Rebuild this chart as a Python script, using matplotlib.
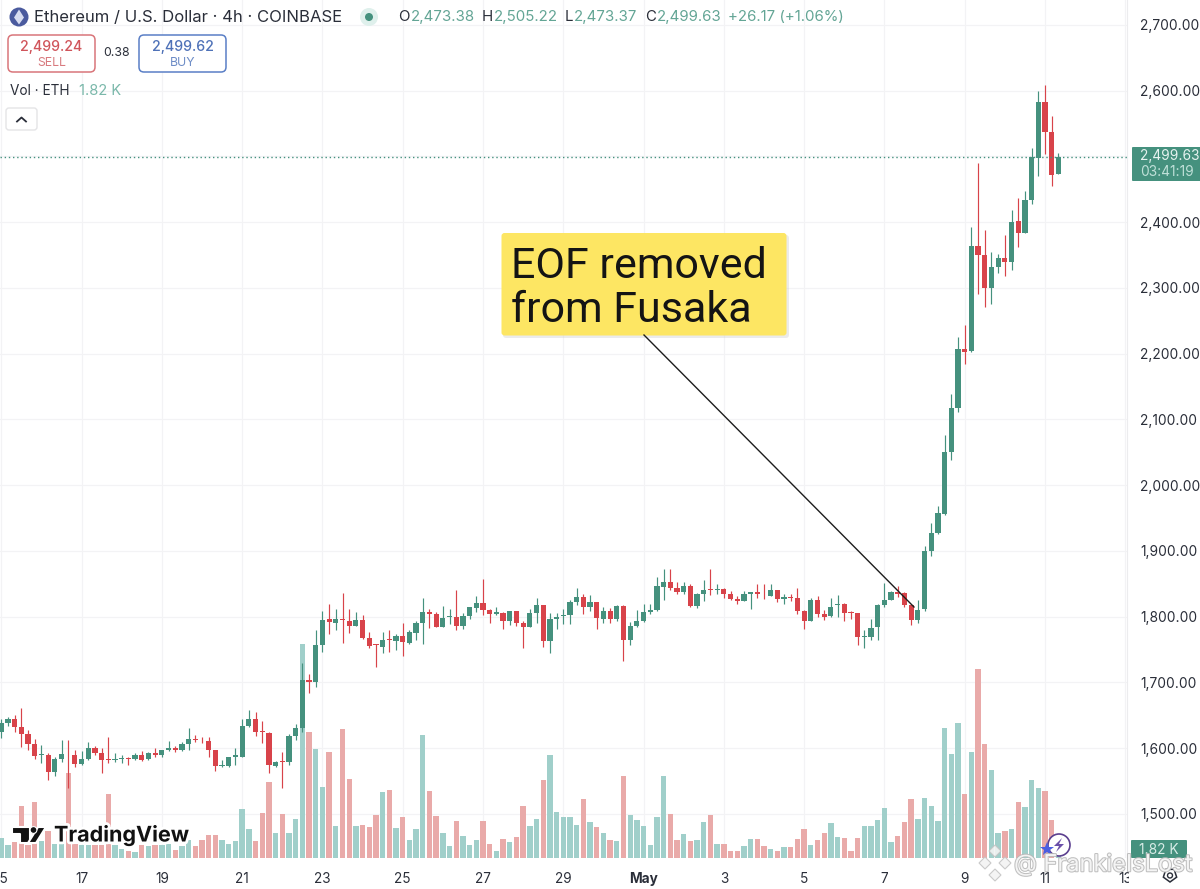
import matplotlib
matplotlib.use('Agg')
import matplotlib.pyplot as plt
import matplotlib.patheffects as pe
from matplotlib.patches import FancyBboxPatch, Polygon, Circle, RegularPolygon

plt.rcParams['font.family'] = ['Inter', 'DejaVu Sans']

# ETH/USD 4h candles from Apr 15
opens = [1624,1638,1644,1632,1621,1607,1589,1590,1564,1583,
         1590,1589,1576,1584,1601,1593,1584,1582,1583,1585,
         1584,1590,1583,1593,1589,1597,1600,1597,1607,1614,
         1613,1611,1597,1573,1573,1587,1587,1634,1645,1626,
         1623,1573,1580,1579,1619,1630,1704,1700,1757,1796,
         1791,1797,1794,1786,1795,1767,1758,1754,1766,1763,
         1770,1760,1775,1791,1807,1804,1785,1799,1800,1786,
         1801,1813,1821,1810,1804,1806,1794,1808,1791,1785,
         1805,1817,1763,1797,1801,1802,1822,1830,1815,1822,
         1797,1809,1796,1816,1764,1786,1793,1807,1810,1845,
         1853,1843,1838,1847,1816,1834,1842,1840,1842,1835,
         1827,1824,1835,1837,1835,1832,1840,1827,1830,1829,
         1808,1794,1826,1804,1801,1817,1820,1807,1805,1769,
         1769,1785,1817,1826,1838,1836,1817,1795,1811,1900,
         1928,1956,2051,2117,2207,2204,2364,2350,2300,2332,
         2345,2340,2401,2384,2433,2498,2582,2537,2473.38]
highs = [1644,1647,1650,1661,1628,1614,1605,1593,1587,1613,
         1612,1597,1595,1610,1604,1601,1617,1592,1589,1586,
         1592,1595,1594,1600,1598,1611,1604,1610,1630,1620,
         1617,1617,1597,1582,1587,1601,1645,1658,1655,1641,
         1624,1581,1594,1622,1637,1729,1713,1780,1808,1819,
         1812,1836,1812,1807,1802,1776,1758,1777,1779,1774,
         1791,1780,1794,1829,1812,1807,1816,1811,1841,1805,
         1815,1831,1858,1812,1815,1807,1809,1808,1793,1812,
         1829,1818,1805,1806,1811,1826,1843,1834,1833,1823,
         1815,1813,1817,1817,1792,1810,1819,1819,1860,1873,
         1872,1852,1852,1849,1836,1856,1872,1850,1843,1839,
         1831,1839,1838,1850,1850,1850,1841,1835,1834,1843,
         1810,1828,1831,1810,1828,1833,1821,1809,1806,1780,
         1797,1819,1851,1839,1846,1838,1820,1825,1907,1943,
         1969,2076,2139,2225,2244,2393,2490,2388,2354,2352,
         2380,2418,2436,2448,2512,2600,2608,2562,2505.22]
lows = [1615,1633,1624,1602,1597,1583,1577,1552,1557,1579,
        1539,1571,1575,1582,1590,1563,1578,1579,1578,1574,
        1582,1581,1582,1587,1587,1595,1594,1596,1598,1610,
        1608,1586,1566,1572,1572,1574,1586,1632,1619,1608,
        1563,1571,1539,1574,1613,1625,1684,1693,1747,1773,
        1780,1760,1775,1786,1766,1753,1723,1744,1746,1750,
        1740,1759,1765,1758,1783,1785,1785,1789,1780,1781,
        1797,1807,1802,1790,1802,1782,1787,1786,1753,1784,
        1791,1754,1745,1782,1789,1789,1818,1804,1808,1781,
        1790,1791,1794,1733,1757,1785,1792,1804,1809,1826,
        1841,1834,1835,1815,1813,1824,1833,1834,1828,1825,
        1819,1824,1811,1829,1827,1831,1823,1819,1824,1804,
        1782,1793,1799,1795,1799,1799,1793,1797,1757,1752,
        1764,1765,1815,1825,1830,1815,1787,1790,1809,1892,
        1925,1955,2038,2112,2184,2202,2291,2271,2275,2323,
        2318,2327,2362,2383,2428,2470,2504,2455,2473.37]
closes = [1638,1644,1632,1621,1606,1588,1591,1564,1584,1591,
          1589,1576,1584,1601,1593,1582,1582,1583,1585,1583,
          1590,1582,1593,1589,1597,1600,1597,1607,1614,1612,
          1612,1597,1573,1574,1586,1589,1634,1645,1625,1624,
          1574,1579,1579,1619,1630,1704,1700,1757,1795,1792,
          1797,1795,1786,1795,1768,1756,1757,1765,1764,1770,
          1761,1777,1791,1807,1804,1785,1798,1801,1786,1801,
          1814,1821,1810,1804,1807,1794,1808,1791,1784,1805,
          1817,1763,1797,1800,1803,1822,1830,1815,1823,1798,
          1809,1796,1816,1764,1786,1793,1807,1810,1846,1853,
          1843,1838,1847,1816,1834,1841,1841,1842,1835,1827,
          1824,1834,1837,1834,1834,1840,1827,1830,1829,1808,
          1794,1826,1804,1800,1815,1819,1806,1806,1769,1770,
          1783,1817,1826,1838,1834,1818,1795,1810,1900,1928,
          1957,2051,2117,2207,2203,2364,2350,2300,2332,2346,
          2339,2400,2384,2433,2499,2582,2537,2472,2499.63]
# volume in thousands of ETH
volumes = [4.6,2.9,3.6,11.8,2.9,12.8,3.8,6.1,3.3,8.0,
           19.4,3.3,3.0,3.0,2.9,2.9,14.7,2.9,2.1,1.7,
           1.3,2.9,2.7,2.9,3.0,3.3,1.9,2.7,4.2,2.7,
           4.0,5.2,5.2,4.0,3.3,3.8,11.2,6.6,3.8,10.3,
           17.4,5.7,10.0,5.7,9.0,48.9,28.7,24.9,16.3,24.2,
           7.4,29.3,18.0,7.2,7.6,7.0,9.8,15.0,15.4,6.9,
           9.3,4.1,6.5,28.0,15.3,9.6,5.7,2.7,8.5,5.0,
           3.0,4.1,8.5,3.3,1.7,4.3,3.7,4.9,11.9,7.4,
           8.9,17.7,23.4,10.4,9.3,9.3,7.5,13.5,8.2,7.0,
           5.7,4.2,3.8,18.7,9.7,8.7,7.4,3.0,9.4,18.8,
           10.0,4.2,5.5,3.9,4.1,8.2,9.7,3.3,3.3,1.5,
           1.6,2.7,4.3,4.4,2.8,2.1,1.7,2.4,2.5,4.3,
           6.7,3.0,4.0,5.6,7.9,4.9,4.6,1.5,4.6,7.4,
           7.2,8.7,11.5,3.6,5.1,8.1,13.5,8.9,13.6,11.9,
           8.4,29.7,23.8,30.7,14.6,24.2,43.0,26.1,20.0,5.8,
           6.2,6.6,12.8,11.6,17.8,16.0,15.3,8.7,1.82]

date_ticks = [0, 12, 24, 36, 48, 60, 72, 84, 96, 108, 120, 132, 144, 156, 168]
date_labels = ['15', '17', '19', '21', '23', '25', '27', '29', 'May', '3', '5', '7', '9', '11', '13']
price_ticks = [1500, 1600, 1700, 1800, 1900, 2000, 2100, 2200, 2300, 2400, 2500, 2600, 2700]
last_price = 2499.63

UP = '#45917e'
DOWN = '#d8434a'
UP_VOL = '#a0cfca'
DOWN_VOL = '#e9aaa9'
GRID = '#f3f3f5'
TEXT = '#2a2e39'
GREEN_TEXT = '#63a595'

W, H = 1200, 889
fig = plt.figure(figsize=(12, 8.89), dpi=100, facecolor='white')
rect = [0, (H - 858) / H, 1127 / W, 858 / H]
PRICE_LIM = (1433, 2737.8)
X_LIM = (-0.194, 168.26)

# grid at the back, then volume, then candles
ax_grid = fig.add_axes(rect, zorder=0)
ax_vol = fig.add_axes(rect, zorder=1, sharex=ax_grid)
ax = fig.add_axes(rect, zorder=2, sharex=ax_grid)

ax_grid.set_xlim(*X_LIM)
ax_grid.set_ylim(*PRICE_LIM)
ax_grid.set_xticks(date_ticks)
ax_grid.set_xticklabels(date_labels)
ax_grid.set_yticks(price_ticks)
ax_grid.tick_params(axis='x', length=0, pad=10, labelsize=9.8, labelcolor=TEXT)
ax_grid.tick_params(axis='y', length=0, labelleft=False)
ax_grid.grid(True, color=GRID, lw=0.85)
ax_grid.get_xticklabels()[8].set_fontweight('bold')
for s in ax_grid.spines.values():
    s.set_visible(False)

xs = list(range(len(opens)))
up = [c >= o for o, c in zip(opens, closes)]

ax_vol.bar(xs, volumes, width=0.8, color=[UP_VOL if u else DOWN_VOL for u in up])
ax_vol.set_ylim(0, 195.6)
ax_vol.axis('off')

colors = [UP if u else DOWN for u in up]
ax.vlines(xs, lows, highs, colors=colors, lw=0.85)
ax.bar(xs, [abs(c - o) for o, c in zip(opens, closes)], bottom=[min(o, c) for o, c in zip(opens, closes)],
       width=0.78, color=colors)
ax.axhline(last_price, color=UP, lw=1, ls=(0, (1, 2)))
ax.set_ylim(*PRICE_LIM)
ax.axis('off')

# price scale on the right
ax_r = fig.add_axes([1127 / W, rect[1], 73 / W, 1 - rect[1]], zorder=3)
ax_r.set_ylim(*PRICE_LIM)
ax_r.set_xticks([])
ax_r.set_yticks(price_ticks)
ax_r.set_yticklabels([f'{p:,.2f}' for p in price_ticks], ha='left')
ax_r.tick_params(axis='y', length=0, pad=-9.5, labelsize=9.9, labelcolor=TEXT)
for name, s in ax_r.spines.items():
    s.set_visible(name == 'left')
ax_r.spines['left'].set_color('#ececee')

# overlay in picture pixels for everything that sits on top of the chart
ov = fig.add_axes([0, 0, 1, 1], zorder=5)
ov.set_xlim(0, W)
ov.set_ylim(H, 0)
ov.axis('off')
ov.patch.set_alpha(0)


def box(x0, y0, x1, y1, r=3, **kw):
    p = FancyBboxPatch((x0 + r, y0 + r), x1 - x0 - 2 * r, y1 - y0 - 2 * r,
                       boxstyle=f'round,pad={r},rounding_size={r}', **kw)
    ov.add_patch(p)
    return p


def label(x, y, s, size=9.9, color=TEXT, ha='left', va='center', **kw):
    return ov.text(x, y, s, fontsize=size, color=color, ha=ha, va=va, **kw)


# the date scale stops where the price scale starts
ov.fill_between([1129, 1200], 858, 889, color='white', lw=0)

# header
ov.add_patch(Circle((19, 17), 9.5, color='#4a5a9e', lw=0))
ov.add_patch(Polygon([(19, 9.5), (24, 17.5), (19, 24.5), (14, 17.5)], color='#d7dcf0', lw=0))
label(34, 17, 'Ethereum / U.S. Dollar · 4h · COINBASE', size=12)
ov.add_patch(Circle((369, 17), 9, color='#dff0ec', lw=0))
ov.add_patch(Circle((369, 17), 4, color=UP, lw=0))
for x, letter in [(398, 'O'), (481.5, 'H'), (565, 'L'), (645, 'C')]:
    label(x, 17, letter, size=10.8)
for x, val in [(410.5, '2,473.38'), (494, '2,505.22'), (574, '2,473.37'), (657, '2,499.63'),
               (728, '+26.17 (+1.06%)')]:
    label(x, 17, val, size=10.8, color=GREEN_TEXT)

# sell / buy buttons
box(8, 35, 95, 72, r=5, fc='white', ec='#d9757a', lw=1.1)
label(51.5, 47, '2,499.24', size=10.2, color='#d0555b', ha='center', fontweight='medium')
label(51.5, 62.5, 'SELL', size=8.8, color='#d87a7e', ha='center')
label(117, 53.5, '0.38', size=8.8, ha='center')
box(139, 35, 226, 72, r=5, fc='white', ec='#5a7fc6', lw=1.1)
label(182.5, 47, '2,499.62', size=10.2, color='#4f72b8', ha='center', fontweight='medium')
label(182.5, 62.5, 'BUY', size=8.8, color='#6d8cc6', ha='center')

label(10, 91, 'Vol · ETH', size=9.8)
label(79, 91, '1.82 K', size=10.6, color='#7ab8aa')
box(6, 108, 37, 130, r=3, fc='white', ec='#e4e4e6', lw=1)
ov.plot([17, 21.5, 26], [121.5, 117.5, 121.5], color=TEXT, lw=1.3)

# note with its line
ov.plot([644, 914], [335, 607], color='#1c1c1c', lw=1)
box(503, 235, 789, 338, r=3, fc='#c8c8c8', ec='none', alpha=0.35)
box(501.5, 233, 786.5, 335.5, r=3, fc='#fde663', ec='none')
label(511, 278, 'EOF removed', size=31, color='#141414', va='baseline', family='Roboto')
label(511, 321.5, 'from Fusaka', size=31, color='#141414', va='baseline', family='Roboto')

# price labels on the scale
box(1132, 147, 1205, 181, r=1, fc=UP, ec='none')
label(1140, 156, '2,499.63', color='#e6f3f0', clip_on=True)
label(1140, 172, '03:41:19', color='#bfe0d8', clip_on=True)
box(1131, 840, 1187, 858, r=1, fc=UP, ec='none')
label(1159, 849.5, '1.82 K', color='#d8ece7', ha='center')

# TradingView mark
halo = [pe.withStroke(linewidth=4, foreground='white')]
for pts in [[(12, 827), (30, 827), (30, 843), (20, 843), (20, 834), (12, 834)],
            [(38, 827), (46, 827), (36, 843), (28, 843)]]:
    ov.add_patch(Polygon(pts, fc='#111111', ec='white', lw=1.5, joinstyle='round'))
ov.add_patch(Circle((33.5, 830), 3.4, fc='#111111', ec='white', lw=0.8))
label(54, 835, 'TradingView', size=15.5, color='#111111', fontweight='bold', path_effects=halo)

# small icons near the last bar and the gear
ov.add_patch(Circle((1059, 845), 11, fc='white', ec='#5b3f8f', lw=1.2))
ov.add_patch(Polygon([(1062, 838), (1054, 846), (1059, 846), (1056, 852), (1064, 844), (1059, 844)],
                     fc='#6a4fa8', lw=0))
ov.plot([1047], [849], marker='*', ms=10, color='#4b5fe0', mew=0)
ov.add_patch(RegularPolygon((1170, 875), 5, radius=7, fc='none', ec=TEXT, lw=1.1))
ov.add_patch(Circle((1170, 875.5), 2.5, fc='none', ec=TEXT, lw=1))

# watermark
mark = [pe.withStroke(linewidth=1.5, foreground='#b9b9b9')]
for cx, cy in [(995, 851), (985, 863), (1005, 863), (995, 875)]:
    ov.add_patch(Polygon([(cx, cy - 6), (cx + 6, cy), (cx, cy + 6), (cx - 6, cy)],
                         fc='#f3f3f3', ec='#c4c4c4', lw=0.8, alpha=0.9))
label(1014, 865, '@ FrankieIsLost', size=17, color='#fafafa', alpha=0.9, path_effects=mark)

ov.set_xlim(0, W)
ov.set_ylim(H, 0)
fig.savefig('out.png', dpi=100, facecolor='white')
